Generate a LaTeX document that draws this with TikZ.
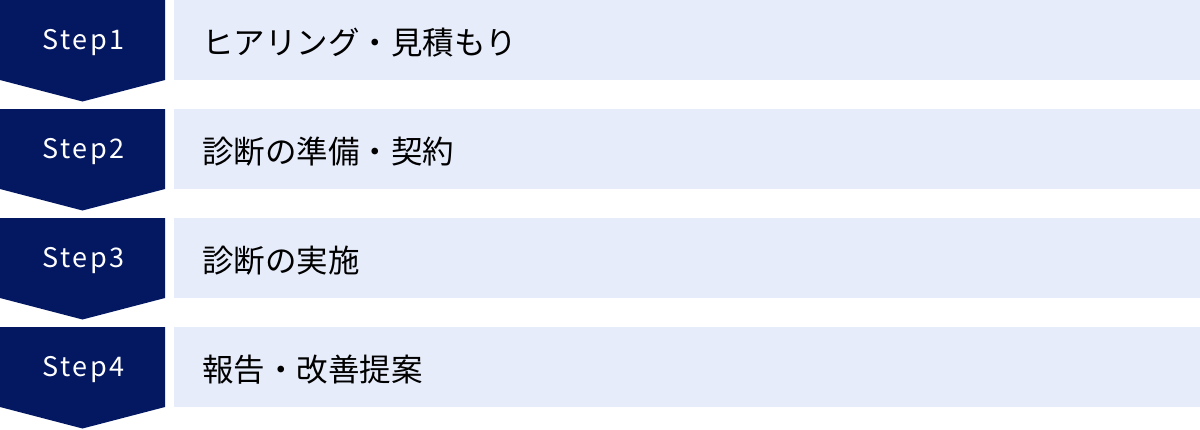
\documentclass[tikz,border=0pt]{standalone}
\usepackage{fontspec}
\setmainfont{Noto Sans CJK JP}
\newfontfamily\stepfont[LetterSpace=9]{Noto Sans CJK JP}
\definecolor{navy}{RGB}{4,24,98}
\definecolor{lightbar}{RGB}{230,236,250}
\begin{document}
\begin{tikzpicture}[x=1pt,y=-1pt,
  steplabel/.style={text=white,font=\stepfont\fontsize{27}{32}\selectfont,anchor=center,inner sep=0},
  bartext/.style={text=black,font=\fontsize{31.5}{36}\selectfont,anchor=west,inner sep=0}]
\useasboundingbox (0,0) rectangle (1200,429);
\foreach \i/\lab/\txt in {0/Step1/ヒアリング・見積もり,1/Step2/診断の準備・契約,2/Step3/診断の実施,3/Step4/報告・改善提案}{
  \pgfmathsetmacro{\yo}{\i*109}
  \begin{scope}[yshift={-\yo pt}]
    \fill[navy] (0,0) -- (165,0) -- (165,80) -- (82.5,101.5) -- (0,80) -- cycle;
    \fill[lightbar] (174,0) rectangle (1200,80);
    \node[steplabel] (s\i) at (83.5,43) {\lab};
    \node[bartext] (t\i) at (202,43) {\txt};
  \end{scope}
}
\end{tikzpicture}
\end{document}
